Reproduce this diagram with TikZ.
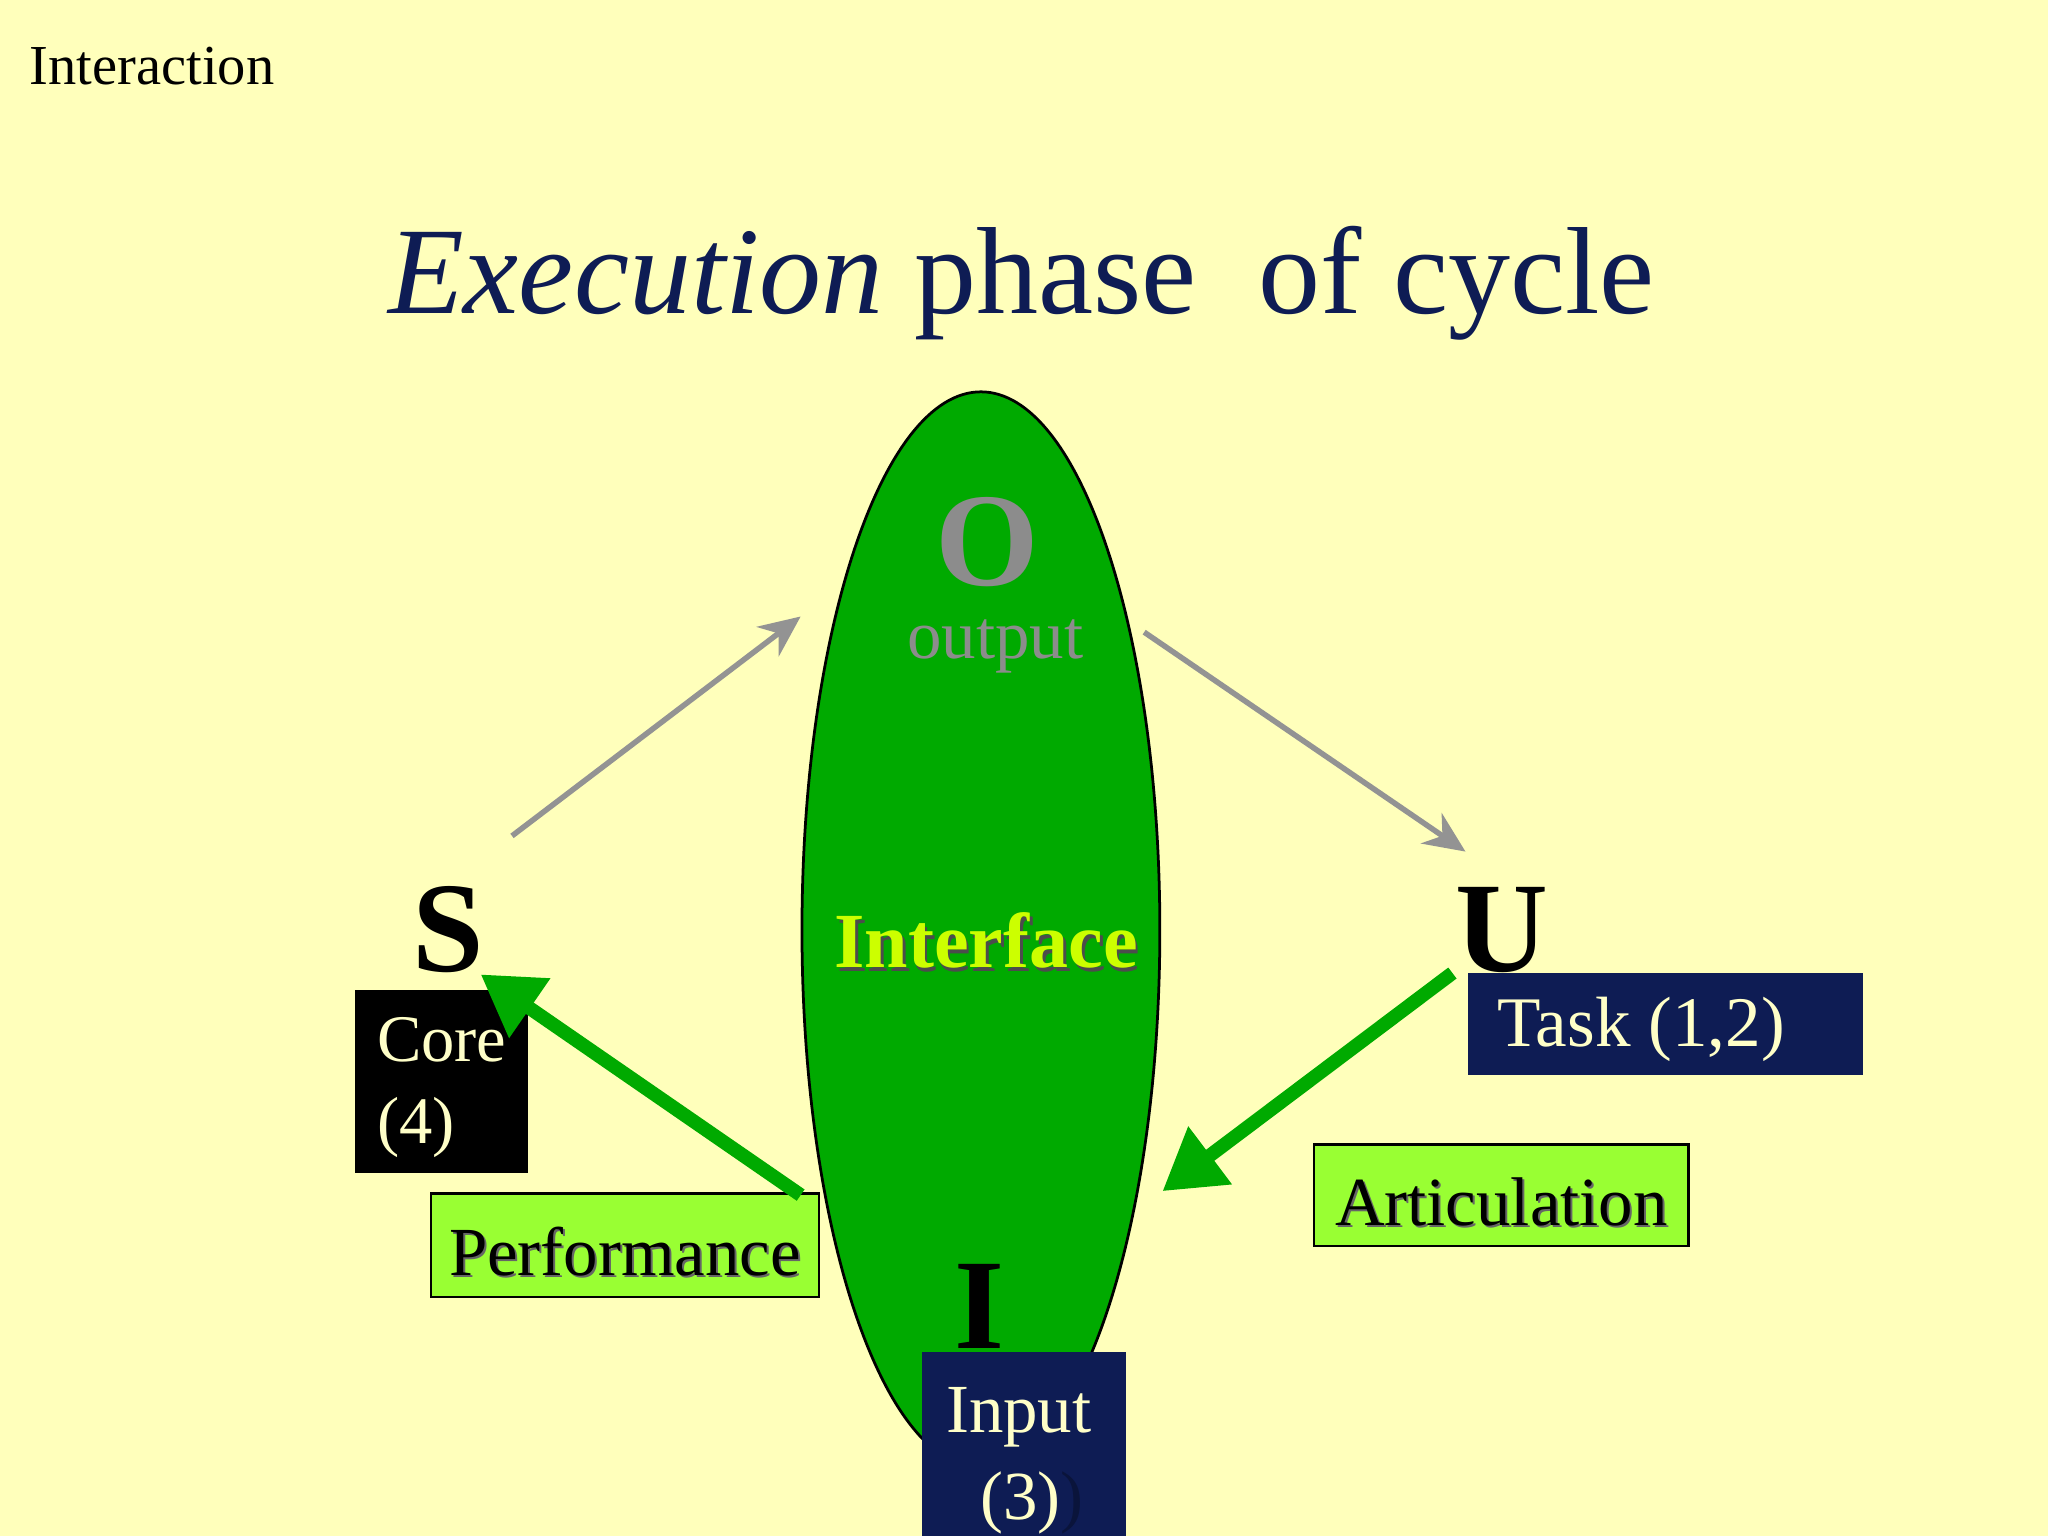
\documentclass[tikz,border=0pt]{standalone}
\usepackage{fontspec}
\setmainfont{Liberation Serif}
\usetikzlibrary{arrows.meta}
\definecolor{bg}{RGB}{255,255,187}
\definecolor{navy}{RGB}{14,28,84}
\definecolor{ifgreen}{RGB}{0,170,0}
\definecolor{lime}{RGB}{153,255,51}
\definecolor{pale}{RGB}{255,255,200}
\definecolor{ifyellow}{RGB}{204,255,0}
\tikzset{
 graybar/.style={draw=gray!85,line width=1.2pt,-{Stealth[length=9pt,width=8pt]}},
 greenbar/.style={draw=ifgreen,line width=3pt,-{Triangle[length=13pt,width=15pt]}},
 big/.style={font=\fontsize{28}{30}\selectfont\bfseries}
}
\begin{document}
\begin{tikzpicture}
\useasboundingbox (0,0) rectangle (15.68,-11.76);
\fill[bg] (0,0) rectangle (15.68,-11.76);
\node[anchor=base west,inner sep=0pt,font=\fontsize{12.3}{14}\selectfont] (inter) at (0.22,-0.65) {Interaction};
\node[anchor=base,inner sep=0pt,text=navy,font=\fontsize{27}{30}\selectfont] (title) at (7.82,-2.40) {\textit{Execution} phase\ \ of cycle};
\draw[fill=ifgreen,line width=0.6pt] (7.51,-7.12) ellipse (1.37 and 4.12);
\node[text=gray!90,font=\fontsize{29}{32}\selectfont\bfseries] (O) at (7.56,-4.15) {O};
\node[text=gray!90,font=\fontsize{15}{17}\selectfont] (out) at (7.62,-4.95) {output};
\node[text=black!70,font=\fontsize{17}{19}\selectfont\bfseries] at (7.57,-7.23) {Interface};
\node[text=ifyellow,font=\fontsize{17}{19}\selectfont\bfseries] (iface) at (7.55,-7.20) {Interface};
\node[big] (S) at (3.43,-7.12) {S};
\node[big] (U) at (11.50,-7.12) {U};
\node[big] (I) at (7.50,-10.00) {I};
\fill[black] (2.72,-7.58) rectangle (4.04,-8.98);
\node[anchor=north west,inner sep=0pt,text=pale,align=left,font=\fontsize{14.5}{18}\selectfont] (core) at (2.88,-7.78) {Core\\(4)};
\fill[navy] (11.24,-7.45) rectangle (14.26,-8.23);
\node[anchor=west,text=pale,font=\fontsize{15.5}{18}\selectfont] (task) at (11.34,-7.88) {Task (1,2)};
\fill[navy] (7.06,-10.35) rectangle (8.62,-11.76);
\node[anchor=north west,text=pale,align=left,font=\fontsize{15}{19}\selectfont] (inp) at (7.12,-10.50) {Input\\\ \ (3)\textcolor{navy!70!black}{)}};
\draw[fill=lime,line width=0.6pt] (3.30,-9.14) rectangle (6.27,-9.93);
\node[text=black!60,font=\fontsize{15}{18}\selectfont] at (4.80,-9.60) {Performance};
\node[font=\fontsize{15}{18}\selectfont] (perf) at (4.785,-9.585) {Performance};
\draw[fill=lime,line width=0.6pt] (10.06,-8.76) rectangle (12.93,-9.54);
\node[text=black!60,font=\fontsize{15}{18}\selectfont] at (11.51,-9.22) {Articulation};
\node[font=\fontsize{15}{18}\selectfont] (art) at (11.495,-9.205) {Articulation};
\coordinate (a1) at (3.92,-6.40); \coordinate (a2) at (6.13,-4.72);
\coordinate (b1) at (8.76,-4.84); \coordinate (b2) at (11.22,-6.52);
\coordinate (c1) at (6.13,-9.15); \coordinate (c2) at (3.68,-7.46);
\coordinate (d1) at (11.12,-7.45); \coordinate (d2) at (8.90,-9.12);
\draw[graybar] (a1) -- (a2);
\draw[graybar] (b1) -- (b2);
\draw[greenbar] (c1) -- (c2);
\draw[greenbar] (d1) -- (d2);
\end{tikzpicture}
\end{document}
